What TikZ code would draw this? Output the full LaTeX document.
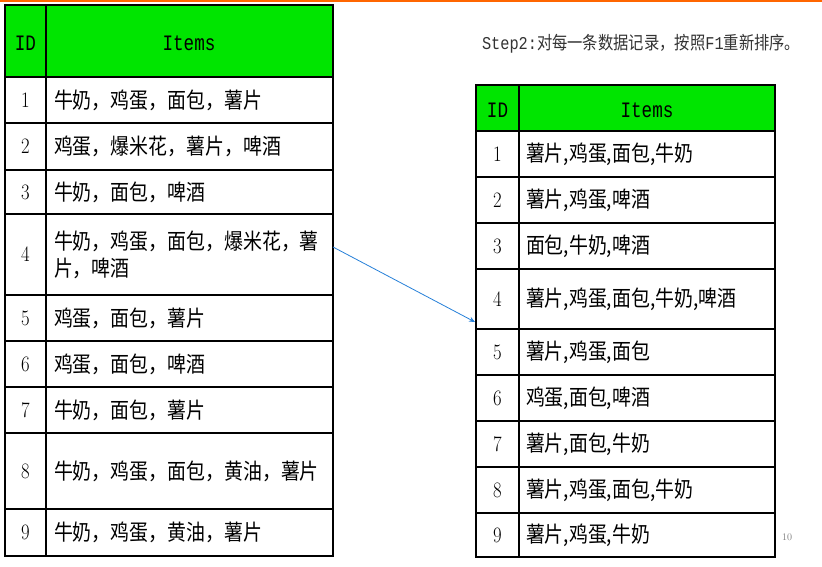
\documentclass[tikz,border=0pt]{standalone}
\usepackage{fontspec}
\usetikzlibrary{arrows.meta}
\newfontfamily\cjk{Noto Sans CJK SC}
\setmonofont{Liberation Mono}
\begin{document}
\begin{tikzpicture}[x=1pt,y=-1pt,
  cell/.style={draw=black,line width=1.2pt},
  hdr/.style={cell,fill=green!90!black},
  txt/.style={font=\cjk\fontsize{22}{27}\selectfont,anchor=west,xscale=0.86,align=left},
  idt/.style={font=\fontsize{22}{26}\selectfont,xscale=0.85},
  htx/.style={font=\ttfamily\fontsize{22}{26}\selectfont,xscale=0.8}]
\useasboundingbox (0,0) rectangle (822,567);
\fill[white] (0,0) rectangle (822,567);
\fill[orange!80!red] (0,0) rectangle (822,2.5);
% left table
\def\rowsL{77/123/1/{牛奶，鸡蛋，面包，薯片},123/170/2/{鸡蛋，爆米花，薯片，啤酒},170/214/3/{牛奶，面包，啤酒},214/295/4/{牛奶，鸡蛋，面包，爆米花，薯\\片，啤酒},295/341/5/{鸡蛋，面包，薯片},341/387/6/{鸡蛋，面包，啤酒},387/433/7/{牛奶，面包，薯片},433/509/8/{牛奶，鸡蛋，面包，黄油，薯片},509/556/9/{牛奶，鸡蛋，黄油，薯片}}
\draw[hdr] (5,5) rectangle (46,77);
\draw[hdr] (46,5) rectangle (333,77);
\node[htx] (lhid) at (25.5,43) {ID};
\node[htx] (lhit) at (189,43) {Items};
\foreach \a/\b/\i/\t in \rowsL {
  \draw[cell] (5,\a) rectangle (46,\b);
  \draw[cell] (46,\a) rectangle (333,\b);
  \node[idt] (lid\i) at (25.5,{(\a+\b)/2}) {\i};
  \node[txt] (lit\i) at (51,{(\a+\b)/2}) {\t};
}
% right table
\def\rowsR{131/177/1/{薯片,鸡蛋,面包,牛奶},177/223/2/{薯片,鸡蛋,啤酒},223/269/3/{面包,牛奶,啤酒},269/329/4/{薯片,鸡蛋,面包,牛奶,啤酒},329/375/5/{薯片,鸡蛋,面包},375/421/6/{鸡蛋,面包,啤酒},421/467/7/{薯片,面包,牛奶},467/513/8/{薯片,鸡蛋,面包,牛奶},513/557/9/{薯片,鸡蛋,牛奶}}
\draw[hdr] (476,85) rectangle (519,131);
\draw[hdr] (519,85) rectangle (775,131);
\node[htx] (rhid) at (497.5,110) {ID};
\node[htx] (rhit) at (647,110) {Items};
\foreach \a/\b/\i/\t in \rowsR {
  \draw[cell] (476,\a) rectangle (519,\b);
  \draw[cell] (519,\a) rectangle (775,\b);
  \node[idt] (rid\i) at (497.5,{(\a+\b)/2}) {\i};
  \node[txt] (rit\i) at (523,{(\a+\b)/2}) {\t};
}
\node[anchor=west,xscale=0.85,font=\fontsize{18}{22}\selectfont,text=black!80] (step) at (479,44) {\texttt{Step2:}{\cjk 对每一条数据记录，按照}\texttt{F1}{\cjk 重新排序。}};
\node[text=gray,font=\fontsize{10}{12}\selectfont] (pg) at (787,537) {10};
\coordinate (a1) at (333,247);
\coordinate (a2) at (475,322);
\draw[-{Stealth[length=6pt,width=5pt]},color=blue!50!cyan!70!gray,line width=0.8pt] (a1) -- (a2);
\end{tikzpicture}
\end{document}
